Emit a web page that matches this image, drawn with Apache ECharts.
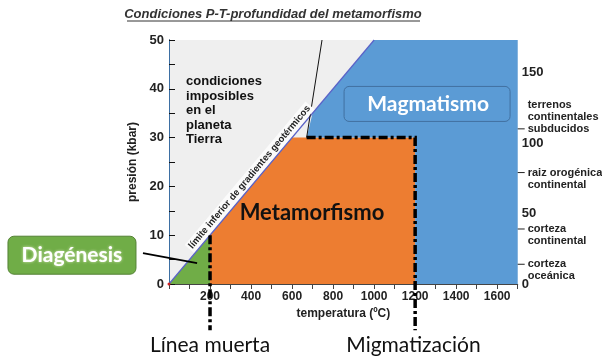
<!DOCTYPE html>
<html>
<head>
<meta charset="utf-8">
<script src="https://cdn.jsdelivr.net/npm/echarts@6/dist/echarts.min.js"></script>
<style>html,body{margin:0;padding:0;background:#fff}#c{width:602px;height:363px}</style>
</head>
<body>
<div id="c"></div>
<script>
// ---- data ----
const titleText = 'Condiciones P-T-profundidad del metamorfismo';
const xName = 'temperatura (ºC)';
const yName = 'presión (kbar)';
const tempMin = 0, tempMax = 1700, tempStep = 200;
const presMin = 0, presMax = 50, presStep = 5;
const depthMax = 173, depthStep = 50;

const diagenesisT = [0, 200, 200];
const diagenesisP = [0, 10, 0];
const metamorfismoT = [200, 200, 600, 1200, 1200];
const metamorfismoP = [0, 10, 30, 30, 0];
const magmatismoT = [671, 700, 1000, 1700, 1700, 1200, 1200];
const magmatismoP = [30, 35, 50, 50, 0, 0, 30];
const limiteT = [0, 1000];
const limiteP = [0, 50];
const solidusT = [671, 746];
const solidusP = [30, 50];
const lineaMuertaT = [200, 200];
const lineaMuertaP = [10, -9.5];
const migmatizacionT = [671, 1200, 1200];
const migmatizacionP = [30, 30, -9.5];

const depthKm = [110, 79, 39, 14];
const depthNames = ['terrenos\ncontinentales\nsubducidos', 'raiz orogénica\ncontinental', 'corteza\ncontinental', 'corteza\noceánica'];
const depthAnchorLine = [2, 0, 0, 0];

const imposiblesText = 'condiciones\nimposibles\nen el\nplaneta\nTierra';
const imposiblesPos = [83, 42.9];
const limiteText = 'límite inferior de gradientes geotérmicos';
const limiteTextPos = [393, 21.9];
const metamorfismoLabelPos = [697, 14.5];
const magmatismoLabelPos = [1263, 36.9];
const diagenesisLabelPos = [-473, 5.9];
const diagenesisLeaderT = [-127, 137];
const diagenesisLeaderP = [6.35, 4.3];
const bottomLabels = ['Línea muerta', 'Migmatización'];
const bottomLabelT = [200, 1192];
const bottomLabelP = -12.6;

// ---- chart ----
const chart = echarts.init(document.getElementById('c'), null, {renderer: 'canvas'});
const AX = 'Liberation Sans, Arial, sans-serif';

function polygon(T, P, fill, stroke, z) {
  return {
    type: 'custom', coordinateSystem: 'cartesian2d', xAxisIndex: 0, yAxisIndex: 0,
    data: [[T[0], P[0]]], silent: true, z: z,
    renderItem: function (params, api) {
      return {type: 'polygon', shape: {points: T.map((t, i) => api.coord([t, P[i]]))},
        style: {fill: fill, stroke: stroke, lineWidth: stroke ? 1 : 0}};
    }
  };
}
function polyline(T, P, color, width, dash, z) {
  return {
    type: 'custom', coordinateSystem: 'cartesian2d', xAxisIndex: 0, yAxisIndex: 0,
    data: [[T[0], P[0]]], silent: true, z: z, clip: false,
    renderItem: function (params, api) {
      return {type: 'polyline', shape: {points: T.map((t, i) => api.coord([t, P[i]]))},
        style: {stroke: color, lineWidth: width, lineDash: dash || null, fill: null, lineCap: 'butt'}};
    }
  };
}

chart.setOption({
  animation: false,
  grid: {left: 169, right: 84.3, top: 40, bottom: 79, show: true, backgroundColor: '#efefef', borderWidth: 0},
  xAxis: [{
    type: 'value', min: tempMin, max: tempMax, interval: tempStep, position: 'bottom',
    name: xName, nameLocation: 'middle', nameGap: 23,
    nameTextStyle: {fontFamily: AX, fontWeight: 'bold', fontSize: 12, color: '#222'},
    axisLine: {show: true, lineStyle: {color: '#4f81bd', width: 1}},
    axisTick: {show: false}, splitLine: {show: false},
    axisLabel: {margin: 7, fontFamily: AX, fontWeight: 'bold', fontSize: 12, color: '#222',
      formatter: v => (v === 0 || v > 1600) ? '' : String(v)}
  }, {
    type: 'value', min: tempMin, max: tempMax, interval: 100, position: 'top',
    axisLine: {show: true, lineStyle: {color: '#444', width: 1}},
    axisTick: {show: true, inside: true, length: 5, lineStyle: {color: '#444'}},
    axisLabel: {show: false}, splitLine: {show: false}
  }],
  yAxis: [{
    type: 'value', min: presMin, max: presMax, interval: presStep, position: 'left',
    name: yName, nameLocation: 'middle', nameGap: 21,
    nameTextStyle: {fontFamily: AX, fontWeight: 'bold', fontSize: 12, color: '#222'},
    axisLine: {show: true, lineStyle: {color: '#111', width: 1}},
    axisTick: {show: true, inside: true, length: 6, lineStyle: {color: '#111'}},
    splitLine: {show: false},
    axisLabel: {margin: 5, fontFamily: AX, fontWeight: 'bold', fontSize: 13, color: '#222',
      formatter: v => (v % 10 === 0) ? String(v) : ''}
  }, {
    type: 'value', min: 0, max: depthMax, interval: depthStep, position: 'right',
    axisLine: {show: true, lineStyle: {color: '#3d6fa3', width: 1}},
    axisTick: {show: false}, splitLine: {show: false},
    axisLabel: {margin: 4, fontFamily: AX, fontWeight: 'bold', fontSize: 13, color: '#222',
      formatter: v => (v % 50 === 0) ? String(v) : ''}
  }],
  series: [
    polygon(diagenesisT, diagenesisP, '#70ad47', null, 2),
    polygon(metamorfismoT, metamorfismoP, '#ed7d31', null, 2),
    polygon(magmatismoT, magmatismoP, '#5b9bd5', null, 2),
    polyline(limiteT, limiteP, '#5a62c8', 1.2, null, 3),
    polyline(solidusT, solidusP, '#111', 1, null, 3),
    polyline(lineaMuertaT, lineaMuertaP, '#000', 3.5, [9, 3, 3, 3], 4),
    polyline(migmatizacionT, migmatizacionP, '#000', 3.5, [9, 3, 3, 3], 4)
  ]
});

function px(t, p) { return chart.convertToPixel({gridIndex: 0}, [t, p]); }
const g = [];
// title
g.push({type: 'text', x: 273, y: 14, style: {text: titleText, font: 'italic bold 13px ' + AX, fill: '#333', align: 'center', verticalAlign: 'middle'}});
g.push({type: 'line', shape: {x1: 127, y1: 21, x2: 420, y2: 21}, style: {stroke: '#333', lineWidth: 1}});
// imposibles
let p = px(imposiblesPos[0], imposiblesPos[1]);
g.push({type: 'text', x: p[0], y: p[1], z: 10, style: {text: imposiblesText, font: 'bold 13px ' + AX, fill: '#111', align: 'left', verticalAlign: 'top', lineHeight: 14.5}});
// diagonal limit text
p = px(limiteTextPos[0], limiteTextPos[1]);
const a0 = px(limiteT[0], limiteP[0]), a1 = px(limiteT[1], limiteP[1]);
const ang = Math.atan2(a0[1] - a1[1], a1[0] - a0[0]);
g.push({type: 'text', x: p[0], y: p[1], rotation: ang, z: 10, style: {text: limiteText, font: 'bold 9.5px ' + AX, fill: '#222', align: 'center', verticalAlign: 'middle', backgroundColor: '#fbfbfb', padding: [1, 2]}});
// region labels
p = px(metamorfismoLabelPos[0], metamorfismoLabelPos[1]);
g.push({type: 'text', x: p[0], y: p[1], z: 10, style: {text: 'Metamorfismo', font: 'bold 22px Lato, sans-serif', fill: '#111', align: 'center', verticalAlign: 'middle'}});
p = px(magmatismoLabelPos[0], magmatismoLabelPos[1]);
g.push({type: 'rect', z: 9, shape: {x: p[0] - 84, y: p[1] - 17.5, width: 166, height: 35, r: 5}, style: {fill: null, stroke: '#4170a0', lineWidth: 1}});
g.push({type: 'text', x: p[0], y: p[1], z: 10, style: {text: 'Magmatismo', font: 'bold 21px Lato, sans-serif', fill: '#fff', align: 'center', verticalAlign: 'middle'}});
p = px(diagenesisLabelPos[0], diagenesisLabelPos[1]);
g.push({type: 'rect', z: 9, shape: {x: p[0] - 64, y: p[1] - 19, width: 128, height: 38, r: 6}, style: {fill: '#70ad47', stroke: '#548235', lineWidth: 1}});
g.push({type: 'text', x: p[0], y: p[1], z: 10, style: {text: 'Diagénesis', font: 'bold 21px Lato, sans-serif', fill: '#fff', align: 'center', verticalAlign: 'middle', textShadowColor: 'rgba(230,240,200,0.9)', textShadowBlur: 3}});
const l0 = px(diagenesisLeaderT[0], diagenesisLeaderP[0]), l1 = px(diagenesisLeaderT[1], diagenesisLeaderP[1]);
g.push({type: 'line', z: 9, shape: {x1: l0[0], y1: l0[1], x2: l1[0], y2: l1[1]}, style: {stroke: '#000', lineWidth: 1.8}});
// bottom labels
bottomLabels.forEach((txt, i) => {
  const q = px(bottomLabelT[i], bottomLabelP);
  g.push({type: 'text', x: q[0], y: q[1], z: 10, style: {text: txt, font: '21px Lato, sans-serif', fill: '#111', align: 'center', verticalAlign: 'middle'}});
});
// depth annotations on right axis
const rightX = px(tempMax, 0)[0];
depthKm.forEach((km, i) => {
  const y = chart.convertToPixel({yAxisIndex: 1}, km);
  g.push({type: 'line', z: 9, shape: {x1: rightX, y1: y, x2: rightX + 7, y2: y}, style: {stroke: '#222', lineWidth: 1}});
  const lh = 12;
  g.push({type: 'text', x: rightX + 10, y: y - depthAnchorLine[i] * lh - lh / 2, z: 10, style: {text: depthNames[i], font: 'bold 11px ' + AX, fill: '#222', align: 'left', verticalAlign: 'top', lineHeight: lh}});
});
// origin red dot
const o = px(0, 0);
g.push({type: 'circle', z: 9, shape: {cx: o[0], cy: o[1], r: 1.5}, style: {fill: '#d02020'}});
chart.setOption({graphic: g});
</script>
</body>
</html>
